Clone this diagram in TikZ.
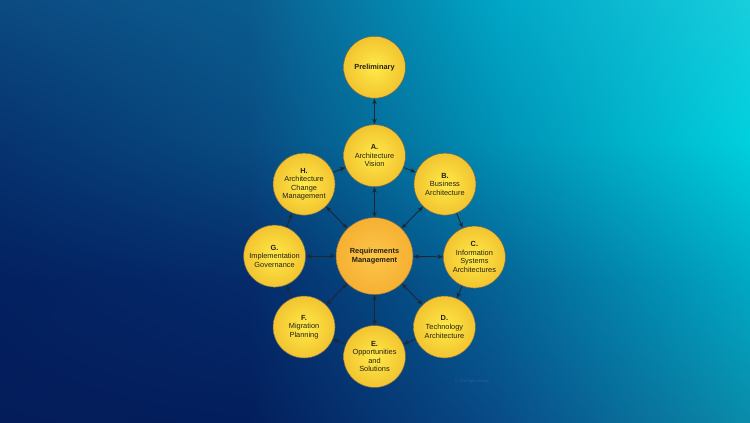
\documentclass[tikz,border=0pt]{standalone}
\usepackage{fontspec}
\setmainfont{Liberation Sans}
\usetikzlibrary{arrows.meta, shadings}

% backdrop colours, bg-column-row
\definecolor{bg-0-0}{RGB}{12,74,130}
\definecolor{bg-1-0}{RGB}{10,92,142}
\definecolor{bg-2-0}{RGB}{0,166,198}
\definecolor{bg-3-0}{RGB}{24,205,220}
\definecolor{bg-0-1}{RGB}{6,52,112}
\definecolor{bg-1-1}{RGB}{8,76,130}
\definecolor{bg-2-1}{RGB}{0,146,182}
\definecolor{bg-3-1}{RGB}{0,208,222}
\definecolor{bg-0-2}{RGB}{3,32,96}
\definecolor{bg-1-2}{RGB}{5,42,106}
\definecolor{bg-2-2}{RGB}{5,100,150}
\definecolor{bg-3-2}{RGB}{0,168,196}
\definecolor{bg-0-3}{RGB}{4,28,90}
\definecolor{bg-1-3}{RGB}{3,30,92}
\definecolor{bg-2-3}{RGB}{8,76,136}
\definecolor{bg-3-3}{RGB}{10,140,170}

\definecolor{phasein}{RGB}{255,234,72}
\definecolor{phaseout}{RGB}{242,196,48}
\definecolor{reqin}{RGB}{252,198,74}
\definecolor{reqout}{RGB}{246,176,50}
\definecolor{rim}{RGB}{110,102,84}
\definecolor{linkgray}{RGB}{30,38,54}
\definecolor{textdark}{RGB}{36,32,24}

\tikzset{
	admpicture/.style = {
		x = 1pt,
		y = -1pt,
		>= {Stealth[length = 5.5pt, width = 4.5pt]},
		arrow/.style = {
			draw = linkgray,
			line width = 0.9pt,
			shorten >= 0.3pt,
			shorten <= 0.3pt
		}
	},
	phase/.style = {
		circle,
		draw = rim,
		line width = 0.5pt,
		minimum size = 62pt,
		inner sep = 0pt,
		align = center,
		text = textdark,
		font = \fontsize{7.4}{8.6}\selectfont,
		shading = radial,
		inner color = phasein,
		outer color = phaseout
	},
	req/.style = {
		phase,
		minimum size = 77pt,
		inner color = reqin,
		outer color = reqout
	},
	cycle-arrow/.style = {
		->
	},
	req-arrow/.style = {
		<->
	}
}

\begin{document}
\begin{tikzpicture}[admpicture]
	% backdrop, one bilinear patch per cell
	\foreach \i/\ii in {0/1, 1/2, 2/3}
		\foreach \j/\jj in {0/1, 1/2, 2/3}
			\shade[upper left = bg-\i-\j, upper right = bg-\ii-\j,
				lower left = bg-\i-\jj, lower right = bg-\ii-\jj]
				({\i*250-0.3}, {\j*140.67-0.3}) rectangle ({\ii*250+0.3}, {\jj*140.67+0.3});
	\useasboundingbox (0,0) rectangle (750,422);

	\node[phase] (P) at (374.5,67) {\textbf{Preliminary}};
	\node[phase] (A) at (374.5,155.5) {\textbf{A.}\\Architecture\\Vision};
	\node[phase] (B) at (445,184) {\textbf{B.}\\Business\\Architecture};
	\node[phase] (C) at (474.5,257) {\textbf{C.}\\Information\\Systems\\Architectures};
	\node[phase] (D) at (444.5,327) {\textbf{D.}\\Technology\\Architecture};
	\node[phase] (E) at (374.5,356.5) {\textbf{E.}\\Opportunities\\and\\Solutions};
	\node[phase] (F) at (304,327) {\textbf{F.}\\Migration\\Planning};
	\node[phase] (G) at (274.5,256) {\textbf{G.}\\Implementation\\Governance};
	\node[phase] (H) at (304,184) {\textbf{H.}\\Architecture\\Change\\Management};

	\node[req] (RM) at (374.5,256) {\textbf{Requirements}\\\textbf{Management}};

	\node[text = white, opacity = 0.12, font = \fontsize{4}{5}\selectfont] (copy) at (472,381) {\copyright{} The Open Group};

	\begin{scope}[every path/.style = arrow]
		\path[req-arrow] (P) to (A);

		\path[cycle-arrow] (A) to (B);
		\path[cycle-arrow] (B) to (C);
		\path[cycle-arrow] (C) to (D);
		\path[cycle-arrow] (D) to (E);
		\path[cycle-arrow] (E) to (F);
		\path[cycle-arrow] (F) to (G);
		\path[cycle-arrow] (G) to (H);
		\path[cycle-arrow] (H) to (A);

		\path[req-arrow] (RM) to (A);
		\path[req-arrow] (RM) to (B);
		\path[req-arrow] (RM) to (C);
		\path[req-arrow] (RM) to (D);
		\path[req-arrow] (RM) to (E);
		\path[req-arrow] (RM) to (F);
		\path[req-arrow] (RM) to (G);
		\path[req-arrow] (RM) to (H);
	\end{scope}
\end{tikzpicture}
\end{document}
